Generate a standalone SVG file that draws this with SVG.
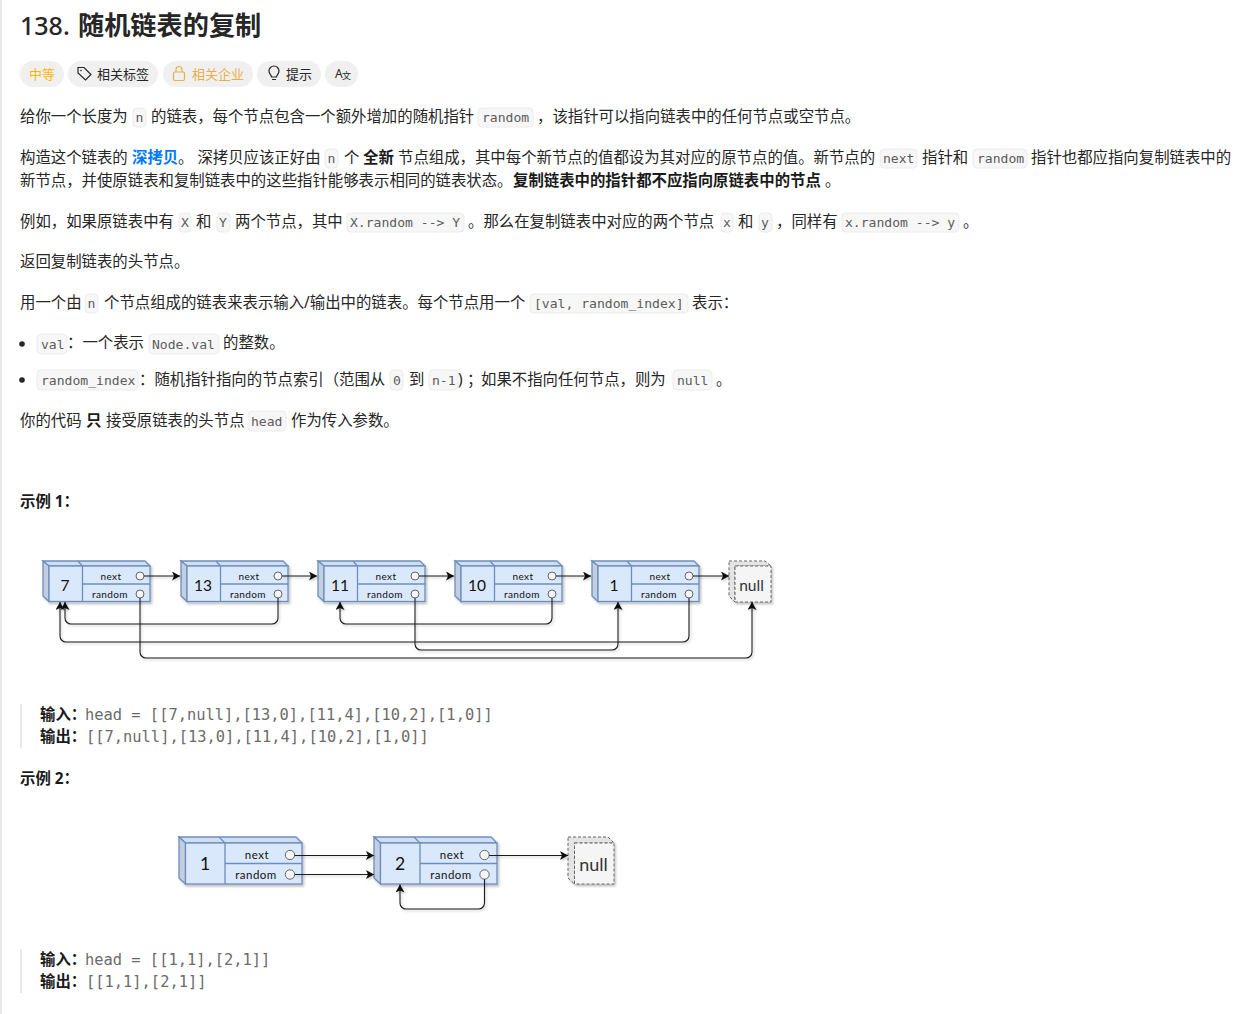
<svg xmlns="http://www.w3.org/2000/svg" width="1244" height="1014" viewBox="0 0 1244 1014">
<style>
text{font-family:"Noto Sans","Noto Sans CJK SC",sans-serif;font-size:15.4px;fill:#262626;white-space:pre}
.b{font-weight:700;fill:#1a1a1a}
.link{font-weight:700;fill:#007aff}
.m{font-family:"DejaVu Sans Mono",monospace;font-size:13.090px;fill:#5c5c5c}
.pre{font-family:"DejaVu Sans Mono",monospace;font-size:15.4px;fill:#6b6b6b}
.cb{fill:#f7f7f8;stroke:#ececee;stroke-width:1}
.pill{fill:#f0f0f0}
.pt{font-size:13px}
.face{fill:#dae8fc;stroke:#6c8ebf;stroke-width:1.3}
.side{fill:#c3cfe0;stroke:#6c8ebf;stroke-width:1.3}
.top{fill:#d0dff0;stroke:#6c8ebf;stroke-width:1.3}
.ln{fill:none;stroke:#6c8ebf;stroke-width:1.3}
.port{fill:#f5f5f5;stroke:#666;stroke-width:1}
.nf{fill:#f5f5f5;stroke:#666;stroke-width:1;stroke-dasharray:3 2}
.ns{fill:#e4e4e4;stroke:#666;stroke-width:1;stroke-dasharray:3 2}
.lbl{font-family:Lato,sans-serif;font-size:10px;text-anchor:middle;fill:#111;letter-spacing:.4px}
.lbl2{font-family:Lato,sans-serif;font-size:11.500px;text-anchor:middle;fill:#111;letter-spacing:.5px}
.val{font-family:Lato,sans-serif;font-size:15.500px;text-anchor:middle;fill:#111;font-weight:400}
.val2{font-family:Lato,sans-serif;font-size:17.500px;text-anchor:middle;fill:#111;font-weight:400}
.nt{font-family:Lato,sans-serif;font-size:15.500px;text-anchor:middle;fill:#333}
.nt2{font-family:Lato,sans-serif;font-size:18px;text-anchor:middle;fill:#333}
.c{fill:none;stroke:#1c1c1c;stroke-width:1.1;marker-end:url(#arr)}
.icon{fill:none;stroke:#262626;stroke-width:1.2}
</style>
<defs>
<marker id="arr" markerUnits="userSpaceOnUse" markerWidth="10" markerHeight="10" refX="8" refY="4.5" orient="auto"><path d="M0 0L8 4.5L0 9L2 4.5Z" fill="#111"/></marker>
<filter id="sh" x="-10%" y="-10%" width="125%" height="130%"><feDropShadow dx="1.5" dy="2" stdDeviation="1.2" flood-color="#000" flood-opacity=".25"/></filter>
<filter id="shc" filterUnits="userSpaceOnUse" x="0" y="500" width="1244" height="500"><feDropShadow dx="1.2" dy="1.5" stdDeviation="1" flood-color="#000" flood-opacity=".22"/></filter>
<g id="n1"><g filter="url(#sh)"><path class="top" d="M0 0H102L107 5H6Z"/><path class="side" d="M0 0L6 5V40.500L0 35Z"/><rect class="face" x="6" y="5" width="101" height="35.500"/></g><path class="ln" d="M35 0L39.500 5V40.500M39.500 23H107"/></g>
<g id="n2"><g filter="url(#sh)"><path class="top" d="M0 0H117L123 6H6.500Z"/><path class="side" d="M0 0L6.500 6V47L0 41Z"/><rect class="face" x="6.500" y="6" width="116.500" height="41"/></g><path class="ln" d="M40 0L46 6V47M46 26.500H123"/></g>
<g id="nul1"><g filter="url(#sh)"><path class="ns" d="M0 0H36L42 5H6V41L0 35Z"/><rect class="nf" x="6" y="5" width="36" height="36"/></g></g>
<g id="nul2"><g filter="url(#sh)"><path class="ns" d="M0 0H40L46 6H6.500V47L0 41Z"/><rect class="nf" x="6.500" y="6" width="39.500" height="41"/></g></g>
</defs>

<rect width="1244" height="1014" fill="#fff"/>
<rect x="0" y="0" width="2" height="1014" fill="#e8e8e8"/>

<g id="header">
<text x="20" y="35" style="font-size:25px;font-weight:500">138.</text>
<text x="78" y="35" style="font-size:26.200px;font-weight:700;font-family:'Noto Sans CJK SC',sans-serif">随机链表的复制</text>
<rect class="pill" x="20" y="61" width="44" height="26" rx="13"/><text class="pt" x="29" y="79" style="fill:#ffb800">中等</text>
<rect class="pill" x="68" y="61" width="90" height="26" rx="13"/><path class="icon" d="M78 67.500H84L91 74.500L85.500 80L78 73Z"/><circle cx="81" cy="70.500" r=".8" fill="#262626"/><text class="pt" x="97" y="79">相关标签</text>
<rect class="pill" x="163" y="61" width="90" height="26" rx="13"/><rect x="173.500" y="72" width="11" height="8.500" rx="1.500" fill="none" stroke="#e8b04a" stroke-width="1.200"/><path d="M176 72V69.500a3 3 0 0 1 6 0V72" fill="none" stroke="#e8b04a" stroke-width="1.200"/><text class="pt" x="192" y="79" style="fill:#e8b04a">相关企业</text>
<rect class="pill" x="257" y="61" width="64" height="26" rx="13"/><path class="icon" d="M271.500 77c0-2-2.500-3-2.500-6a5 5 0 0 1 10 0c0 3-2.500 4-2.500 6ZM272 79.500h4"/><text class="pt" x="286" y="79">提示</text>
<rect class="pill" x="325" y="61" width="33" height="26" rx="13"/><text x="335" y="78" style="font-size:12px">A</text><text x="342" y="79" style="font-size:9px">文</text>
</g>

<g id="body">
<text x="20" y="122">给你一个长度为</text><rect class="cb" x="133" y="108" width="13" height="19" rx="4"/><text class="m" x="135.500" y="122">n</text>
<text x="151" y="122">的链表&#xFF0C;每个节点包含一个额外增加的随机指针</text><rect class="cb" x="478" y="108" width="55" height="19" rx="4"/><text class="m" x="482" y="122">random</text>
<text x="537" y="122">&#xFF0C;该指针可以指向链表中的任何节点或空节点。</text>

<text x="20" y="163">构造这个链表的</text><text class="link" x="132" y="163">深拷贝</text><text x="178" y="163">。 深拷贝应该正好由</text><rect class="cb" x="325" y="149" width="13" height="19" rx="4"/><text class="m" x="327.500" y="163">n</text>
<text x="344" y="163">个</text><text class="b" x="363" y="163">全新</text><text x="398" y="163">节点组成&#xFF0C;其中每个新节点的值都设为其对应的原节点的值。新节点的</text><rect class="cb" x="880" y="149" width="37" height="19" rx="4"/><text class="m" x="883" y="163">next</text>
<text x="922" y="163">指针和</text><rect class="cb" x="973" y="149" width="54" height="19" rx="4"/><text class="m" x="977" y="163">random</text><text x="1031" y="163">指针也都应指向复制链表中的</text>
<text x="20" y="186">新节点&#xFF0C;并使原链表和复制链表中的这些指针能够表示相同的链表状态。</text><text class="b" x="513" y="186">复制链表中的指针都不应指向原链表中的节点</text><text x="825" y="186">。</text>

<text x="20" y="227">例如&#xFF0C;如果原链表中有</text><rect class="cb" x="179" y="213" width="12" height="19" rx="4"/><text class="m" x="181" y="227">X</text><text x="196" y="227">和</text><rect class="cb" x="217" y="213" width="13" height="19" rx="4"/><text class="m" x="219" y="227">Y</text>
<text x="235" y="227">两个节点&#xFF0C;其中</text><rect class="cb" x="347" y="213" width="117" height="19" rx="4"/><text class="m" x="350" y="227">X.random --&gt; Y</text>
<text x="468" y="227">。那么在复制链表中对应的两个节点</text><rect class="cb" x="721" y="213" width="12" height="19" rx="4"/><text class="m" x="723" y="227">x</text><text x="738" y="227">和</text><rect class="cb" x="759" y="213" width="13" height="19" rx="4"/><text class="m" x="761" y="227">y</text>
<text x="776" y="227">&#xFF0C;同样有</text><rect class="cb" x="842" y="213" width="117" height="19" rx="4"/><text class="m" x="845" y="227">x.random --&gt; y</text><text x="963" y="227">。</text>

<text x="20" y="267">返回复制链表的头节点。</text>

<text x="20" y="308">用一个由</text><rect class="cb" x="85" y="294" width="13" height="19" rx="4"/><text class="m" x="87.500" y="308">n</text>
<text x="104" y="308">个节点组成的链表来表示输入/输出中的链表。每个节点用一个</text><rect class="cb" x="530" y="294" width="158" height="19" rx="4"/><text class="m" x="534" y="308">[val, random_index]</text><text x="692" y="308">表示&#xFF1A;</text>

<circle cx="22" cy="344" r="2.800" fill="#262626"/>
<rect class="cb" x="37" y="334" width="30" height="20" rx="4"/><text class="m" x="41" y="349">val</text><text x="67" y="348">&#xFF1A;一个表示</text><rect class="cb" x="149" y="334" width="70" height="20" rx="4"/><text class="m" x="152" y="349">Node.val</text><text x="223" y="348">的整数。</text>

<circle cx="22" cy="380" r="2.800" fill="#262626"/>
<rect class="cb" x="37" y="370" width="101" height="20" rx="4"/><text class="m" x="41" y="385">random_index</text><text x="139" y="385">&#xFF1A;随机指针指向的节点索引&#xFF08;范围从</text><rect class="cb" x="390" y="370" width="13" height="20" rx="4"/><text class="m" x="393" y="385">0</text><text x="409" y="385">到</text><rect class="cb" x="429" y="370" width="29" height="20" rx="4"/><text class="m" x="432" y="385">n-1</text><text x="458" y="385">)</text><text x="467" y="385">&#xFF1B;</text><text x="481" y="385">如果不指向任何节点&#xFF0C;则为</text><rect class="cb" x="673" y="370" width="39" height="20" rx="4"/><text class="m" x="677" y="385">null</text><text x="716" y="385">。</text>

<text x="20" y="426">你的代码</text><text class="b" x="86" y="426">只</text><text x="106" y="426">接受原链表的头节点</text><rect class="cb" x="248" y="411" width="38" height="20" rx="4"/><text class="m" x="251" y="426">head</text><text x="291" y="426">作为传入参数。</text>

<text class="b" x="20" y="507">示例 1&#xFF1A;</text>
<rect x="20" y="704" width="2" height="44" fill="#e8e8e8"/>
<text class="b" x="40" y="720">输入&#xFF1A;</text><text class="pre" x="85" y="720">head = [[7,null],[13,0],[11,4],[10,2],[1,0]]</text>
<text class="b" x="40" y="742">输出&#xFF1A;</text><text class="pre" x="86" y="742">[[7,null],[13,0],[11,4],[10,2],[1,0]]</text>

<text class="b" x="20" y="784">示例 2&#xFF1A;</text>
<rect x="20" y="949" width="2" height="44" fill="#e8e8e8"/>
<text class="b" x="40" y="965">输入&#xFF1A;</text><text class="pre" x="85" y="965">head = [[1,1],[2,1]]</text>
<text class="b" x="40" y="987">输出&#xFF1A;</text><text class="pre" x="86" y="987">[[1,1],[2,1]]</text>
</g>

<g id="node-a7"><use href="#n1" x="43" y="561"/><text class="val" x="65" y="590.500">7</text><text class="lbl" x="111" y="580">next</text><text class="lbl" x="110" y="597.500">random</text><circle class="port" cx="140" cy="576" r="4"/><circle class="port" cx="140" cy="594" r="4"/></g>
<g id="node-a13"><use href="#n1" x="181" y="561"/><text class="val" x="203" y="590.500">13</text><text class="lbl" x="249" y="580">next</text><text class="lbl" x="248" y="597.500">random</text><circle class="port" cx="278" cy="576" r="4"/><circle class="port" cx="278" cy="594" r="4"/></g>
<g id="node-a11"><use href="#n1" x="318" y="561"/><text class="val" x="340" y="590.500">11</text><text class="lbl" x="386" y="580">next</text><text class="lbl" x="385" y="597.500">random</text><circle class="port" cx="415" cy="576" r="4"/><circle class="port" cx="415" cy="594" r="4"/></g>
<g id="node-a10"><use href="#n1" x="455" y="561"/><text class="val" x="477" y="590.500">10</text><text class="lbl" x="523" y="580">next</text><text class="lbl" x="522" y="597.500">random</text><circle class="port" cx="552" cy="576" r="4"/><circle class="port" cx="552" cy="594" r="4"/></g>
<g id="node-a1"><use href="#n1" x="592" y="561"/><text class="val" x="614" y="590.500">1</text><text class="lbl" x="660" y="580">next</text><text class="lbl" x="659" y="597.500">random</text><circle class="port" cx="689" cy="576" r="4"/><circle class="port" cx="689" cy="594" r="4"/></g>
<g id="node-anull"><use href="#nul1" x="729" y="561"/><text class="nt" x="751.500" y="590.500">null</text></g>

<g id="node-b1"><use href="#n2" x="179" y="837"/><text class="val2" x="205" y="870">1</text><text class="lbl2" x="257" y="859">next</text><text class="lbl2" x="256" y="878.500">random</text><circle class="port" cx="290" cy="855" r="4.700"/><circle class="port" cx="290" cy="874.500" r="4.700"/></g>
<g id="node-b2"><use href="#n2" x="374" y="837"/><text class="val2" x="400" y="870">2</text><text class="lbl2" x="452" y="859">next</text><text class="lbl2" x="451" y="878.500">random</text><circle class="port" cx="484.500" cy="855" r="4.700"/><circle class="port" cx="484.500" cy="874.500" r="4.700"/></g>
<g id="node-bnull"><use href="#nul2" x="568" y="837"/><text class="nt2" x="593.500" y="871">null</text></g>

<g id="connectors" filter="url(#shc)">
<path class="c" d="M144 576H180"/>
<path class="c" d="M282 576H317"/>
<path class="c" d="M419 576H454"/>
<path class="c" d="M556 576H591"/>
<path class="c" d="M693 576H729"/>
<path class="c" d="M278 598V618a6 6 0 0 1-6 6H71a6 6 0 0 1-6-6V602"/>
<path class="c" d="M689 598V636a6 6 0 0 1-6 6H66a6 6 0 0 1-6-6V602"/>
<path class="c" d="M415 598V644a6 6 0 0 0 6 6H612a6 6 0 0 0 6-6V602"/>
<path class="c" d="M552 598V618a6 6 0 0 1-6 6H346a6 6 0 0 1-6-6V602"/>
<path class="c" d="M140 598V652a6 6 0 0 0 6 6H746a6 6 0 0 0 6-6V602"/>
<path class="c" d="M294.700 855.500H374"/>
<path class="c" d="M294.700 874.500H374"/>
<path class="c" d="M489.200 855.500H568"/>
<path class="c" d="M484.500 879.200V903a6 6 0 0 1-6 6H406a6 6 0 0 1-6-6V884.500"/>
</g>
</svg>
